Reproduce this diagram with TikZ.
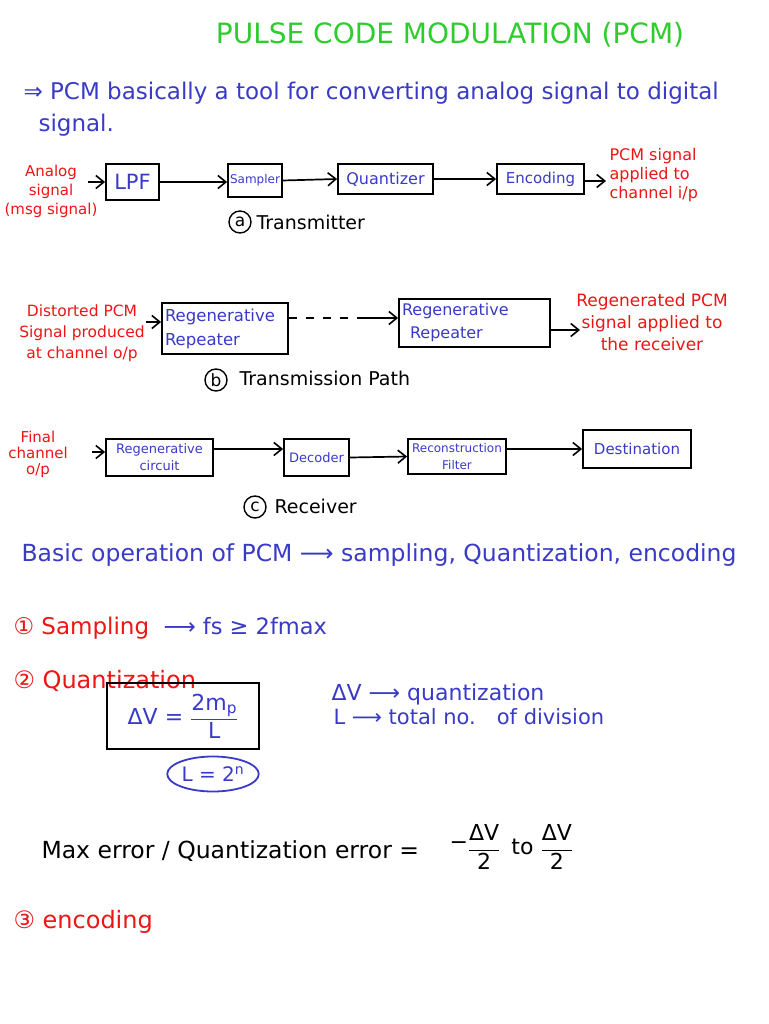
\documentclass[tikz,border=0pt]{standalone}
\usepackage{fontspec}
\setmainfont{DejaVu Sans}
\usetikzlibrary{arrows.meta,shapes.geometric,calc}
\definecolor{pgreen}{HTML}{2ECC2E}
\definecolor{pblue}{HTML}{3A3AC8}
\definecolor{pred}{HTML}{EE1515}
\newcommand{\fsz}[2]{\fontsize{#1}{#2}\selectfont}
\begin{document}
\begin{tikzpicture}[x=1pt,y=-1pt,
  box/.style={draw=black,line width=1.8pt,fill=white,inner sep=2pt,text=pblue},
  arr/.style={-{Straight Barb[length=8pt,width=13pt,line width=1.6pt]},line width=1.7pt},
  lbl/.style={text=pred,align=center},
  bt/.style={text=pblue},
  capt/.style={text=black,font=\fsz{19}{22},anchor=west},
  circl/.style={circle,draw=black,line width=1.4pt,inner sep=0pt,minimum size=22pt,font=\fsz{17}{18}},
]
\useasboundingbox (0,0) rectangle (768,1024);
\fill[white] (0,0) rectangle (768,1024);

% title and intro
\node[text=pgreen,font=\fsz{28}{32}] (title) at (450,35) {PULSE CODE MODULATION (PCM)};
\node[bt,anchor=base west,font=\fsz{23}{26}] (intro1) at (20,100) {⇒ PCM basically a tool for converting analog signal to digital};
\node[bt,anchor=base west,font=\fsz{23}{26}] (intro2) at (35,132) {signal.};

% (a) transmitter
\node[lbl,font=\fsz{15}{19}] (ain) at (51,191) {Analog\\signal\\(msg signal)};
\node[box,minimum width=53pt,minimum height=36pt,font=\fsz{21}{24}] (lpf) at (132.5,182) {LPF};
\node[box,minimum width=48pt,minimum height=33pt,font=\fsz{12}{14}] (samp) at (255,180.5) {Sampler};
\node[box,minimum width=95pt,minimum height=30pt,font=\fsz{16}{18}] (quant) at (385.5,179) {Quantizer};
\node[box,minimum width=87pt,minimum height=30pt,font=\fsz{15}{17}] (enc) at (540.5,179) {Encoding};
\node[lbl,align=left,anchor=west,font=\fsz{16}{19}] (pcmout) at (606,175) {PCM signal\\applied to\\channel i/p};
\coordinate (ina) at (88,182);
\coordinate (outa) at (606,181);
\draw[arr] (ina) -- (lpf.west);
\draw[arr] (lpf.east) -- (lpf.east -| samp.west);
\draw[arr] (samp.east) -- (quant.west);
\draw[arr] (quant.east) -- (enc.west);
\draw[arr] (enc.east |- outa) -- (outa);
\node[circl] (ca) at (240,222) {a};
\node[capt] (txl) at (253,222) {Transmitter};

% (b) transmission path
\node[lbl,font=\fsz{15.5}{21}] (dist) at (82,333) {Distorted PCM\\Signal produced\\at channel o/p};
\node[box,minimum width=126pt,minimum height=51pt,text width=120pt,align=left,font=\fsz{16.5}{24}] (rep1) at (225,328.5) {Regenerative\\Repeater};
\node[box,minimum width=151pt,minimum height=48pt,text width=145pt,align=left,font=\fsz{16}{23}] (rep2) at (474.5,323) {Regenerative\\\enspace Repeater};
\node[lbl,font=\fsz{17}{22}] (regen) at (652,322) {Regenerated PCM\\signal applied to\\the receiver};
\coordinate (inb) at (146,322);
\coordinate (dmid) at (360,318);
\coordinate (outb) at (580,330);
\draw[arr] (inb) -- (inb -| rep1.west);
\draw[line width=1.7pt,dash pattern=on 8pt off 9pt] (rep1.east |- dmid) -- (dmid);
\draw[arr] (dmid) -- (rep2.west |- dmid);
\draw[arr] (rep2.east |- outb) -- (outb);
\node[circl] (cb) at (216,380) {b};
\node[capt] (tpl) at (236,378) {Transmission Path};

% (c) receiver
\node[lbl,font=\fsz{15}{16}] (fin) at (38,454) {Final\\channel\\o/p};
\node[box,minimum width=107pt,minimum height=37pt,align=center,font=\fsz{13}{17}] (rc) at (159.5,457.5) {Regenerative\\circuit};
\node[box,minimum width=65pt,minimum height=37pt,font=\fsz{13}{15}] (dec) at (316.5,457.5) {Decoder};
\node[box,minimum width=98pt,minimum height=35pt,align=center,font=\fsz{12}{17}] (rec) at (457,456.5) {Reconstruction\\Filter};
\node[box,minimum width=108pt,minimum height=38pt,font=\fsz{15}{17}] (dest) at (637,449) {Destination};
\coordinate (inc) at (92,452);
\coordinate (yrd) at (0,449);
\draw[arr] (inc) -- (inc -| rc.west);
\draw[arr] (rc.east |- yrd) -- (dec.west |- yrd);
\draw[arr] (dec.east) -- (rec.west);
\draw[arr] (rec.east |- dest.west) -- (dest.west);
\node[circl] (cc) at (255,507) {c};
\node[capt] (rxl) at (271,506) {Receiver};

% basic operation
\node[bt,anchor=base west,font=\fsz{23.5}{26}] (basic) at (18,561) {Basic operation of PCM ⟶ sampling, Quantization, encoding};
\node[text=pred,anchor=base west,font=\fsz{23}{26}] (samph) at (10,634) {① Sampling};
\node[bt,anchor=base west,font=\fsz{22.5}{26}] (sampr) at (160,634) {⟶ fs ≥ 2fmax};
\node[text=pred,anchor=base west,font=\fsz{24}{26}] (quanth) at (10,688) {② Quantization};

\node[draw=black,line width=1.8pt,minimum width=152pt,minimum height=66pt,text=pblue,font=\fsz{22}{26}] (fbox) at (183,716)
  {ΔV = $\displaystyle\frac{\mbox{2m\textsubscript{p}}}{\mbox{L}}$};
\node[ellipse,draw=pblue,line width=1.8pt,text=pblue,minimum width=84pt,minimum height=35pt,inner sep=1pt,font=\fsz{20}{22}] (lfull) at (213,774) {L = 2\textsuperscript{n}};
\node[bt,anchor=base west,font=\fsz{22}{24}] (dvq) at (328,700) {ΔV ⟶ quantization};
\node[bt,anchor=base west,font=\fsz{21}{24}] (ltot) at (330,724) {L ⟶ total no.\quad of division};

\node[anchor=base west,font=\fsz{23.5}{26}] (maxe) at (38,858) {Max error / Quantization error =};
\node[anchor=west,font=\fsz{22}{26}] (maxf) at (446,847) {\raisebox{5pt}{−}$\displaystyle\frac{\mbox{ΔV}}{\mbox{2}}$\enspace to $\displaystyle\frac{\mbox{ΔV}}{\mbox{2}}$};

\node[text=pred,anchor=base west,font=\fsz{24}{28}] (ench) at (10,928) {③ encoding};
\end{tikzpicture}
\end{document}
